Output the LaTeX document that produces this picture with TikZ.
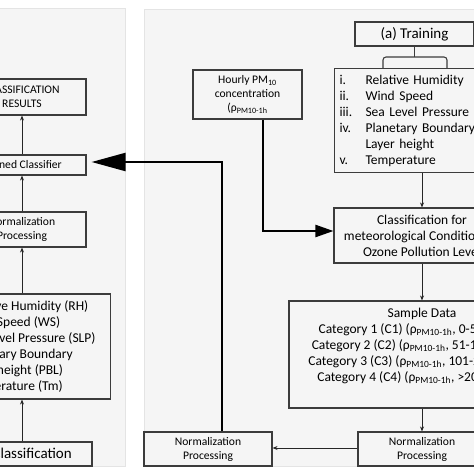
\documentclass[tikz,border=0pt]{standalone}
\usepackage{fontspec}
\setmainfont{Carlito}
\usetikzlibrary{arrows.meta}

\definecolor{panelgray}{HTML}{F5F5F5}
\definecolor{paneledge}{HTML}{E4E4E4}
\definecolor{boxline}{HTML}{3C3C3C}

\tikzset{
  panel/.style={fill=panelgray, draw=paneledge, line width=0.8pt},
  box/.style={draw=boxline, line width=1.1pt},
  txt/.style={font=\fontsize{13.5}{16}\selectfont},
  smalltxt/.style={font=\fontsize{11.6}{14}\selectfont},
  headtxt/.style={font=\fontsize{15}{18}\selectfont},
  arr/.style={-{Stealth[length=5pt,width=4pt]}, line width=0.8pt, draw=black!85},
  bigarr/.style={-{Triangle[length=34pt,width=18pt]}, line width=2.2pt},
  midarr/.style={-{Triangle[length=18pt,width=12pt]}, line width=2.2pt}
}

\begin{document}
\begin{tikzpicture}[x=1pt,y=-1pt]
    \useasboundingbox (0,0) rectangle (474,474);
    \clip (0,0) rectangle (474,474);

    % two panels
    \draw[panel] (-10,8) rectangle (125,466);
    \draw[panel] (144,9) rectangle (490,466);

    % left panel: (b) classification
    \node[box, smalltxt, align=center, minimum width=128pt, minimum height=36pt] (results) at (22,97) {CLASSIFICATION\\RESULTS};
    \node[box, smalltxt, minimum width=128pt, minimum height=20pt] (trained) at (22,165) {Trained Classifier};
    \node[box, smalltxt, align=center, minimum width=128pt, minimum height=35pt] (normL) at (22,229.5) {Normalization\\Processing};
    \node[box, txt, align=left, inner xsep=15pt, minimum height=105pt, anchor=east] (varsL) at (111,346.5)
        {Relative Humidity (RH)\\Wind Speed (WS)\\Sea Level Pressure (SLP)\\Planetary Boundary\\Layer height (PBL)\\Temperature (Tm)};
    \node[box, headtxt, minimum width=140pt, minimum height=24pt] (classB) at (22,454) {(b) Classification};

    \draw[arr] (classB.north) -- (classB.north |- varsL.south);
    \draw[arr] (normL.south |- varsL.north) -- (normL.south);
    \draw[arr] (normL.north) -- (trained.south);
    \draw[arr] (trained.north) -- (results.south);

    % right panel: (a) training
    \node[box, headtxt, minimum width=119pt, minimum height=24pt] (training) at (414.5,34) {(a) Training};
    \node[box, txt, align=left, text width=170pt, inner xsep=5pt, minimum height=104pt, anchor=north west] (params) at (334,68)
        {\makebox[26pt][l]{i.}Relative Humidity\\
         \makebox[26pt][l]{ii.}Wind Speed\\
         \makebox[26pt][l]{iii.}Sea Level Pressure\\
         \makebox[26pt][l]{iv.}Planetary Boundary\\
         \makebox[26pt][l]{}Layer height\\
         \makebox[26pt][l]{v.}Temperature};
    \node[box, smalltxt, align=center, minimum width=109pt, minimum height=49pt] (hourly) at (247.5,94.5)
        {Hourly PM\textsubscript{10}\\concentration\\(ρ\textsubscript{PM10-1h}};
    \node[box, txt, align=center, minimum width=176pt, minimum height=55pt] (meteo) at (422,235.5)
        {Classification for\\meteorological Conditions \&\\Ozone Pollution Level};
    \node[box, minimum width=266pt, minimum height=107pt] (sample) at (422,354.5) {};
    \node[txt, align=center, anchor=north, inner sep=2pt, yshift=-5pt] (sampletext) at (sample.north)
        {Sample Data\\
         Category 1 (C1) (ρ\textsubscript{PM10-1h}, 0-50 µg/m³)\\
         Category 2 (C2) (ρ\textsubscript{PM10-1h}, 51-100 µg/m³)\\
         Category 3 (C3) (ρ\textsubscript{PM10-1h}, 101-200 µg/m³)\\
         Category 4 (C4) (ρ\textsubscript{PM10-1h}, >200 µg/m³)};
    \node[box, smalltxt, align=center, minimum width=128pt, minimum height=34pt] (normR) at (422,449) {Normalization\\Processing};
    \node[box, smalltxt, align=center, minimum width=128pt, minimum height=34pt] (normB) at (208,449) {Normalization\\Processing};

    % brace from training to the parameter list
    \draw[boxline, line width=1.1pt, rounded corners=3pt] (383,68) -- (383,57) -- (447,57) -- (447,68);
    \draw[boxline, line width=1.1pt] (training.south) -- (training.south |- 0,57);

    \draw[arr] (meteo.north |- params.south) -- (meteo.north);
    \draw[arr] (meteo.south) -- (sample.north);
    \draw[arr] (sample.south) -- (normR.north);
    \draw[arr] (normR.west |- 0,448) -- (normB.east |- 0,448);

    % thick connectors
    \coordinate (bend) at (263,231);
    \draw[midarr] (hourly.south -| bend) -- (bend) -- (meteo.west |- bend);
    \coordinate (turn) at (222,162);
    \draw[bigarr] (normB.north -| turn) -- (turn) -- ([xshift=5pt]trained.east |- turn);
\end{tikzpicture}
\end{document}
